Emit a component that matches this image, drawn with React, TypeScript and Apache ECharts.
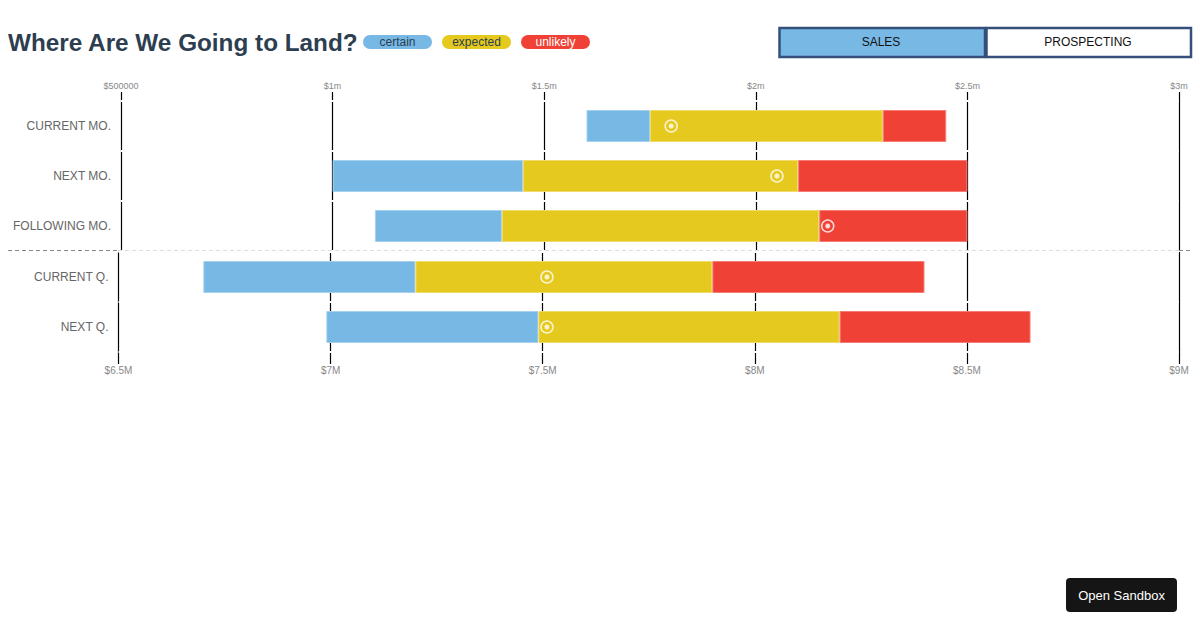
import React, { useEffect, useRef } from "react";
import * as echarts from "echarts";

const monthCategories = ["CURRENT MO.", "NEXT MO.", "FOLLOWING MO."];
const monthStart = [1600000, 1000000, 1100000];
const monthCertain = [150000, 450000, 300000];
const monthExpected = [550000, 650000, 750000];
const monthUnlikely = [150000, 400000, 350000];
const monthMarker = [1800000, 2050000, 2170000];

const quarterCategories = ["CURRENT Q.", "NEXT Q."];
const quarterStart = [6700000, 6990000];
const quarterCertain = [500000, 500000];
const quarterExpected = [700000, 710000];
const quarterUnlikely = [500000, 450000];
const quarterMarker = [7510000, 7510000];

const monthTicks = { min: 500000, max: 3000000, interval: 500000 };
const quarterTicks = { min: 6500000, max: 9000000, interval: 500000 };

const BLUE = "#77b8e4";
const YELLOW = "#e6c91e";
const RED = "#ef4136";
const FONT = "'Liberation Sans', Arial, Helvetica, sans-serif";

export default function App() {
  const ref = useRef<HTMLDivElement>(null);
  useEffect(() => {
    if (!ref.current) return;
    const chart = echarts.init(ref.current, undefined, { renderer: "svg" });

    const seg = (
      name: string,
      color: string,
      border: string,
      data: number[],
      idx: number,
      stack: string
    ) => ({
      name,
      type: "bar",
      stack,
      xAxisIndex: idx,
      yAxisIndex: idx,
      barWidth: 32,
      data,
      itemStyle: { color, borderColor: border, borderWidth: 1 },
      z: 3,
    });

    const base = (data: number[], idx: number, stack: string) => ({
      name: "base",
      type: "bar",
      stack,
      xAxisIndex: idx,
      yAxisIndex: idx,
      barWidth: 32,
      data,
      itemStyle: { color: "transparent" },
      silent: true,
    });

    const markers = (cats: string[], vals: number[], idx: number) => [
      {
        name: "marker",
        type: "scatter",
        xAxisIndex: idx,
        yAxisIndex: idx,
        data: vals.map((v, i) => [v, cats[i]]),
        symbol: "circle",
        symbolSize: 12,
        itemStyle: { color: "transparent", borderColor: "#fff", borderWidth: 1.5 },
        z: 10,
      },
      {
        name: "markerDot",
        type: "scatter",
        xAxisIndex: idx,
        yAxisIndex: idx,
        data: vals.map((v, i) => [v, cats[i]]),
        symbol: "circle",
        symbolSize: 5,
        itemStyle: { color: "#fff" },
        z: 11,
      },
    ];

    const xCommon = {
      type: "value",
      axisLine: { show: false },
      splitLine: { show: true, lineStyle: { color: "#000", width: 1.2 } },
      axisTick: { show: true, lineStyle: { color: "#000", width: 1.2 } },
      axisLabel: { color: "#888", fontFamily: FONT },
    };

    const yCommon = {
      type: "category",
      inverse: true,
      axisLine: { show: false },
      axisTick: { show: false },
      axisLabel: { color: "#666", fontSize: 12, margin: 10, fontFamily: FONT },
      splitLine: { show: true, lineStyle: { color: "#fff", width: 2 } },
      z: 2,
    };

    const pill = (bg: string, color: string) => ({
      width: 69,
      height: 14,
      lineHeight: 14,
      align: "center",
      verticalAlign: "middle",
      borderRadius: 7,
      fontSize: 12,
      fontFamily: FONT,
      backgroundColor: bg,
      color,
    });

    chart.setOption({
      animation: false,
      textStyle: { fontFamily: FONT },
      title: {
        text: "Where Are We Going to Land?",
        left: 3,
        top: 25,
        textStyle: { fontSize: 24.3, fontWeight: "bold", color: "#2c3e50", fontFamily: FONT },
      },
      legend: {
        left: 357,
        top: 35,
        itemWidth: 0,
        itemHeight: 0,
        itemGap: 4,
        padding: 0,
        icon: "rect",
        selectedMode: false,
        data: ["certain", "expected", "unlikely"],
        formatter: (name: string) => "{" + name + "|" + name + "}",
        textStyle: {
          fontSize: 12,
          fontFamily: FONT,
          rich: {
            certain: pill(BLUE, "#2c3e50"),
            expected: pill(YELLOW, "#2c3e50"),
            unlikely: pill(RED, "#fff"),
          },
        },
      },
      grid: [
        { left: 121, right: 21, top: 101, height: 150 },
        { left: 118.5, right: 21, top: 252, height: 100 },
      ],
      xAxis: [
        {
          ...xCommon,
          gridIndex: 0,
          position: "top",
          ...monthTicks,
          axisTick: { ...xCommon.axisTick, length: 9 },
          axisLabel: {
            ...xCommon.axisLabel,
            fontSize: 9,
            margin: 11,
            formatter: (v: number) => (v < 1000000 ? "$" + v : "$" + v / 1000000 + "m"),
          },
        },
        {
          ...xCommon,
          gridIndex: 1,
          position: "bottom",
          ...quarterTicks,
          axisTick: { ...xCommon.axisTick, length: 12 },
          axisLabel: {
            ...xCommon.axisLabel,
            fontSize: 10,
            margin: 13,
            formatter: (v: number) => "$" + v / 1000000 + "M",
          },
        },
      ],
      yAxis: [
        { ...yCommon, gridIndex: 0, data: monthCategories },
        { ...yCommon, gridIndex: 1, data: quarterCategories },
      ],
      series: [
        base(monthStart, 0, "m"),
        seg("certain", BLUE, "#a6d1ee", monthCertain, 0, "m"),
        seg("expected", YELLOW, "#f0dc6a", monthExpected, 0, "m"),
        seg("unlikely", RED, "#f57d75", monthUnlikely, 0, "m"),
        ...markers(monthCategories, monthMarker, 0),
        base(quarterStart, 1, "q"),
        seg("certain", BLUE, "#a6d1ee", quarterCertain, 1, "q"),
        seg("expected", YELLOW, "#f0dc6a", quarterExpected, 1, "q"),
        seg("unlikely", RED, "#f57d75", quarterUnlikely, 1, "q"),
        ...markers(quarterCategories, quarterMarker, 1),
      ],
      graphic: [
        {
          type: "line",
          shape: { x1: 8, y1: 250.5, x2: 118, y2: 250.5 },
          style: { stroke: "#888", lineWidth: 1, lineDash: [4, 3] },
          z: 5,
        },
        {
          type: "line",
          shape: { x1: 118, y1: 250.5, x2: 1179, y2: 250.5 },
          style: { stroke: "#ddd", lineWidth: 1, lineDash: [4, 3] },
          z: 5,
        },
        {
          type: "line",
          shape: { x1: 1179, y1: 250.5, x2: 1192, y2: 250.5 },
          style: { stroke: "#888", lineWidth: 1, lineDash: [4, 3] },
          z: 5,
        },
        {
          type: "rect",
          shape: { x: 779.5, y: 28, width: 205.5, height: 29 },
          style: { fill: BLUE, stroke: "#34507a", lineWidth: 2.5 },
        },
        {
          type: "text",
          x: 881,
          y: 42,
          style: {
            text: "SALES",
            fill: "#111",
            fontSize: 12,
            fontFamily: FONT,
            align: "center",
            verticalAlign: "middle",
          },
        },
        {
          type: "rect",
          shape: { x: 986.5, y: 28, width: 204.5, height: 29 },
          style: { fill: "#fff", stroke: "#34507a", lineWidth: 2.5 },
        },
        {
          type: "text",
          x: 1088,
          y: 42,
          style: {
            text: "PROSPECTING",
            fill: "#111",
            fontSize: 12,
            fontFamily: FONT,
            align: "center",
            verticalAlign: "middle",
          },
        },
        {
          type: "rect",
          shape: { x: 1066, y: 578, width: 111, height: 34, r: 4 },
          style: { fill: "#151515" },
        },
        {
          type: "text",
          x: 1121.5,
          y: 595,
          style: {
            text: "Open Sandbox",
            fill: "#fff",
            fontSize: 13,
            fontFamily: FONT,
            align: "center",
            verticalAlign: "middle",
          },
        },
      ],
    });

    return () => chart.dispose();
  }, []);

  return (
    <div
      ref={ref}
      style={{ position: "fixed", left: 0, top: 0, width: 1200, height: 630, background: "#fff" }}
    />
  );
}
